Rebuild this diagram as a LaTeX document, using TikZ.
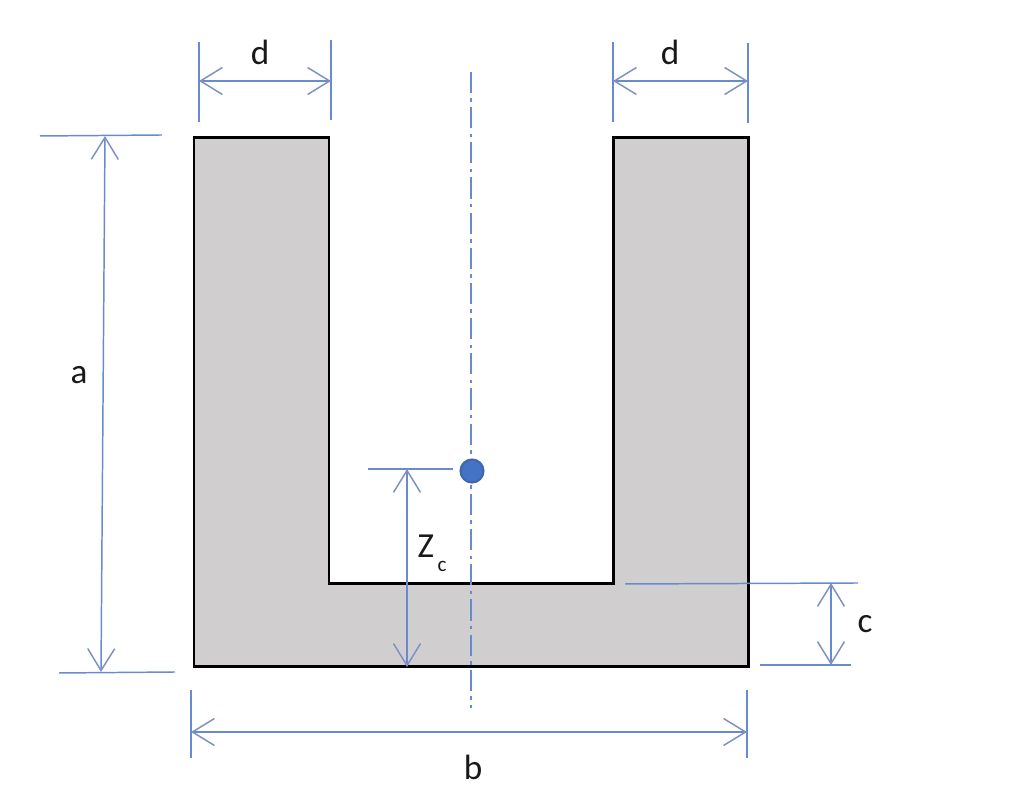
\documentclass[tikz,border=0pt]{standalone}
\usepackage{fontspec}
\setmainfont{Carlito}
\usetikzlibrary{arrows.meta, positioning, calc}
\definecolor{dimblue}{HTML}{6A8AD0}
\definecolor{barbblue}{HTML}{7F90C4}
\definecolor{dotblue}{HTML}{4472C4}
\definecolor{dotedge}{HTML}{3F66B0}
\definecolor{sectiongray}{HTML}{D0CECE}
\tikzset{
  section/.style={draw=black,line width=.85pt,fill=sectiongray,line join=miter},
  tick/.style={draw=dimblue,line width=.42pt},
  dimline/.style={draw=dimblue,line width=.42pt,{Straight Barb[length=.22cm,width=.27cm,color=barbblue]}-{Straight Barb[length=.22cm,width=.27cm,color=barbblue]}},
  axisline/.style={draw=dimblue,line width=.35pt,dash pattern=on 6pt off 1.5pt on 1pt off 1.5pt},
  dimlabel/.style={font=\fontsize{10}{12}\selectfont,text=black!90,inner sep=0pt},
  centroid/.style={circle,fill=dotblue,draw=dotedge,line width=.6pt,minimum size=.23cm,inner sep=0pt},
}
\begin{document}
\begin{tikzpicture}[x=.01cm,y=-.01cm]
	\useasboundingbox (0,0) rectangle (1024,792);
	% u-section
	\draw[section] (194,138) -- (329,138) -- (329,584) -- (613,584) -- (613,138) -- (748,138) -- (748,667) -- (194,667) -- cycle;
	% axis and centroid
	\coordinate (axistop) at (471,72);
	\coordinate (axisbot) at (471,708);
	\draw[axisline] (axistop) -- (axisbot);
	\node[centroid] (G) at (472,471) {};
	% d left
	\coordinate (d1a) at (199,42); \coordinate (d1b) at (199,122);
	\coordinate (d2a) at (331,40); \coordinate (d2b) at (331,120);
	\coordinate (d1m) at (199,81); \coordinate (d2m) at (331,81);
	\draw[tick] (d1a) -- (d1b);
	\draw[tick] (d2a) -- (d2b);
	\draw[dimline] (d1m) -- (d2m);
	\node[dimlabel] (dleft) at (260,52) {d};
	% d right
	\coordinate (d3a) at (613,42); \coordinate (d3b) at (613,122);
	\coordinate (d4a) at (748,43); \coordinate (d4b) at (748,123);
	\coordinate (d3m) at (613,81); \coordinate (d4m) at (748,81);
	\draw[tick] (d3a) -- (d3b);
	\draw[tick] (d4a) -- (d4b);
	\draw[dimline] (d3m) -- (d4m);
	\node[dimlabel] (dright) at (670,52) {d};
	% a
	\coordinate (a1a) at (40,136); \coordinate (a1b) at (162,135);
	\coordinate (a2a) at (59,673); \coordinate (a2b) at (175,672);
	\coordinate (aup) at (105,136); \coordinate (alow) at (101,672);
	\draw[tick] (a1a) -- (a1b);
	\draw[tick] (a2a) -- (a2b);
	\draw[dimline] (aup) -- (alow);
	\node[dimlabel] (alabel) at (79,375) {a};
	% b
	\coordinate (b1a) at (191,690); \coordinate (b1b) at (191,758);
	\coordinate (b2a) at (747,690); \coordinate (b2b) at (747,758);
	\coordinate (b1m) at (191,732); \coordinate (b2m) at (747,732);
	\draw[tick] (b1a) -- (b1b);
	\draw[tick] (b2a) -- (b2b);
	\draw[dimline] (b1m) -- (b2m);
	\node[dimlabel] (blabel) at (473,767) {b};
	% c
	\coordinate (c1a) at (625,584); \coordinate (c1b) at (858,583);
	\coordinate (c2a) at (760,665); \coordinate (c2b) at (851,665);
	\coordinate (cup) at (831,583); \coordinate (clow) at (831,665);
	\draw[tick] (c1a) -- (c1b);
	\draw[tick] (c2a) -- (c2b);
	\draw[dimline] (cup) -- (clow);
	\node[dimlabel] (clabel) at (865,624) {c};
	% zc
	\coordinate (z1a) at (368,469); \coordinate (z1b) at (453,469);
	\coordinate (zup) at (407,469); \coordinate (zlow) at (407,667);
	\draw[tick] (z1a) -- (z1b);
	\draw[dimline] (zup) -- (zlow);
	\node[dimlabel] (zlabel) at (432,553) {Z\raisebox{-4pt}{\fontsize{6}{7}\selectfont\,c}};
\end{tikzpicture}
\end{document}
